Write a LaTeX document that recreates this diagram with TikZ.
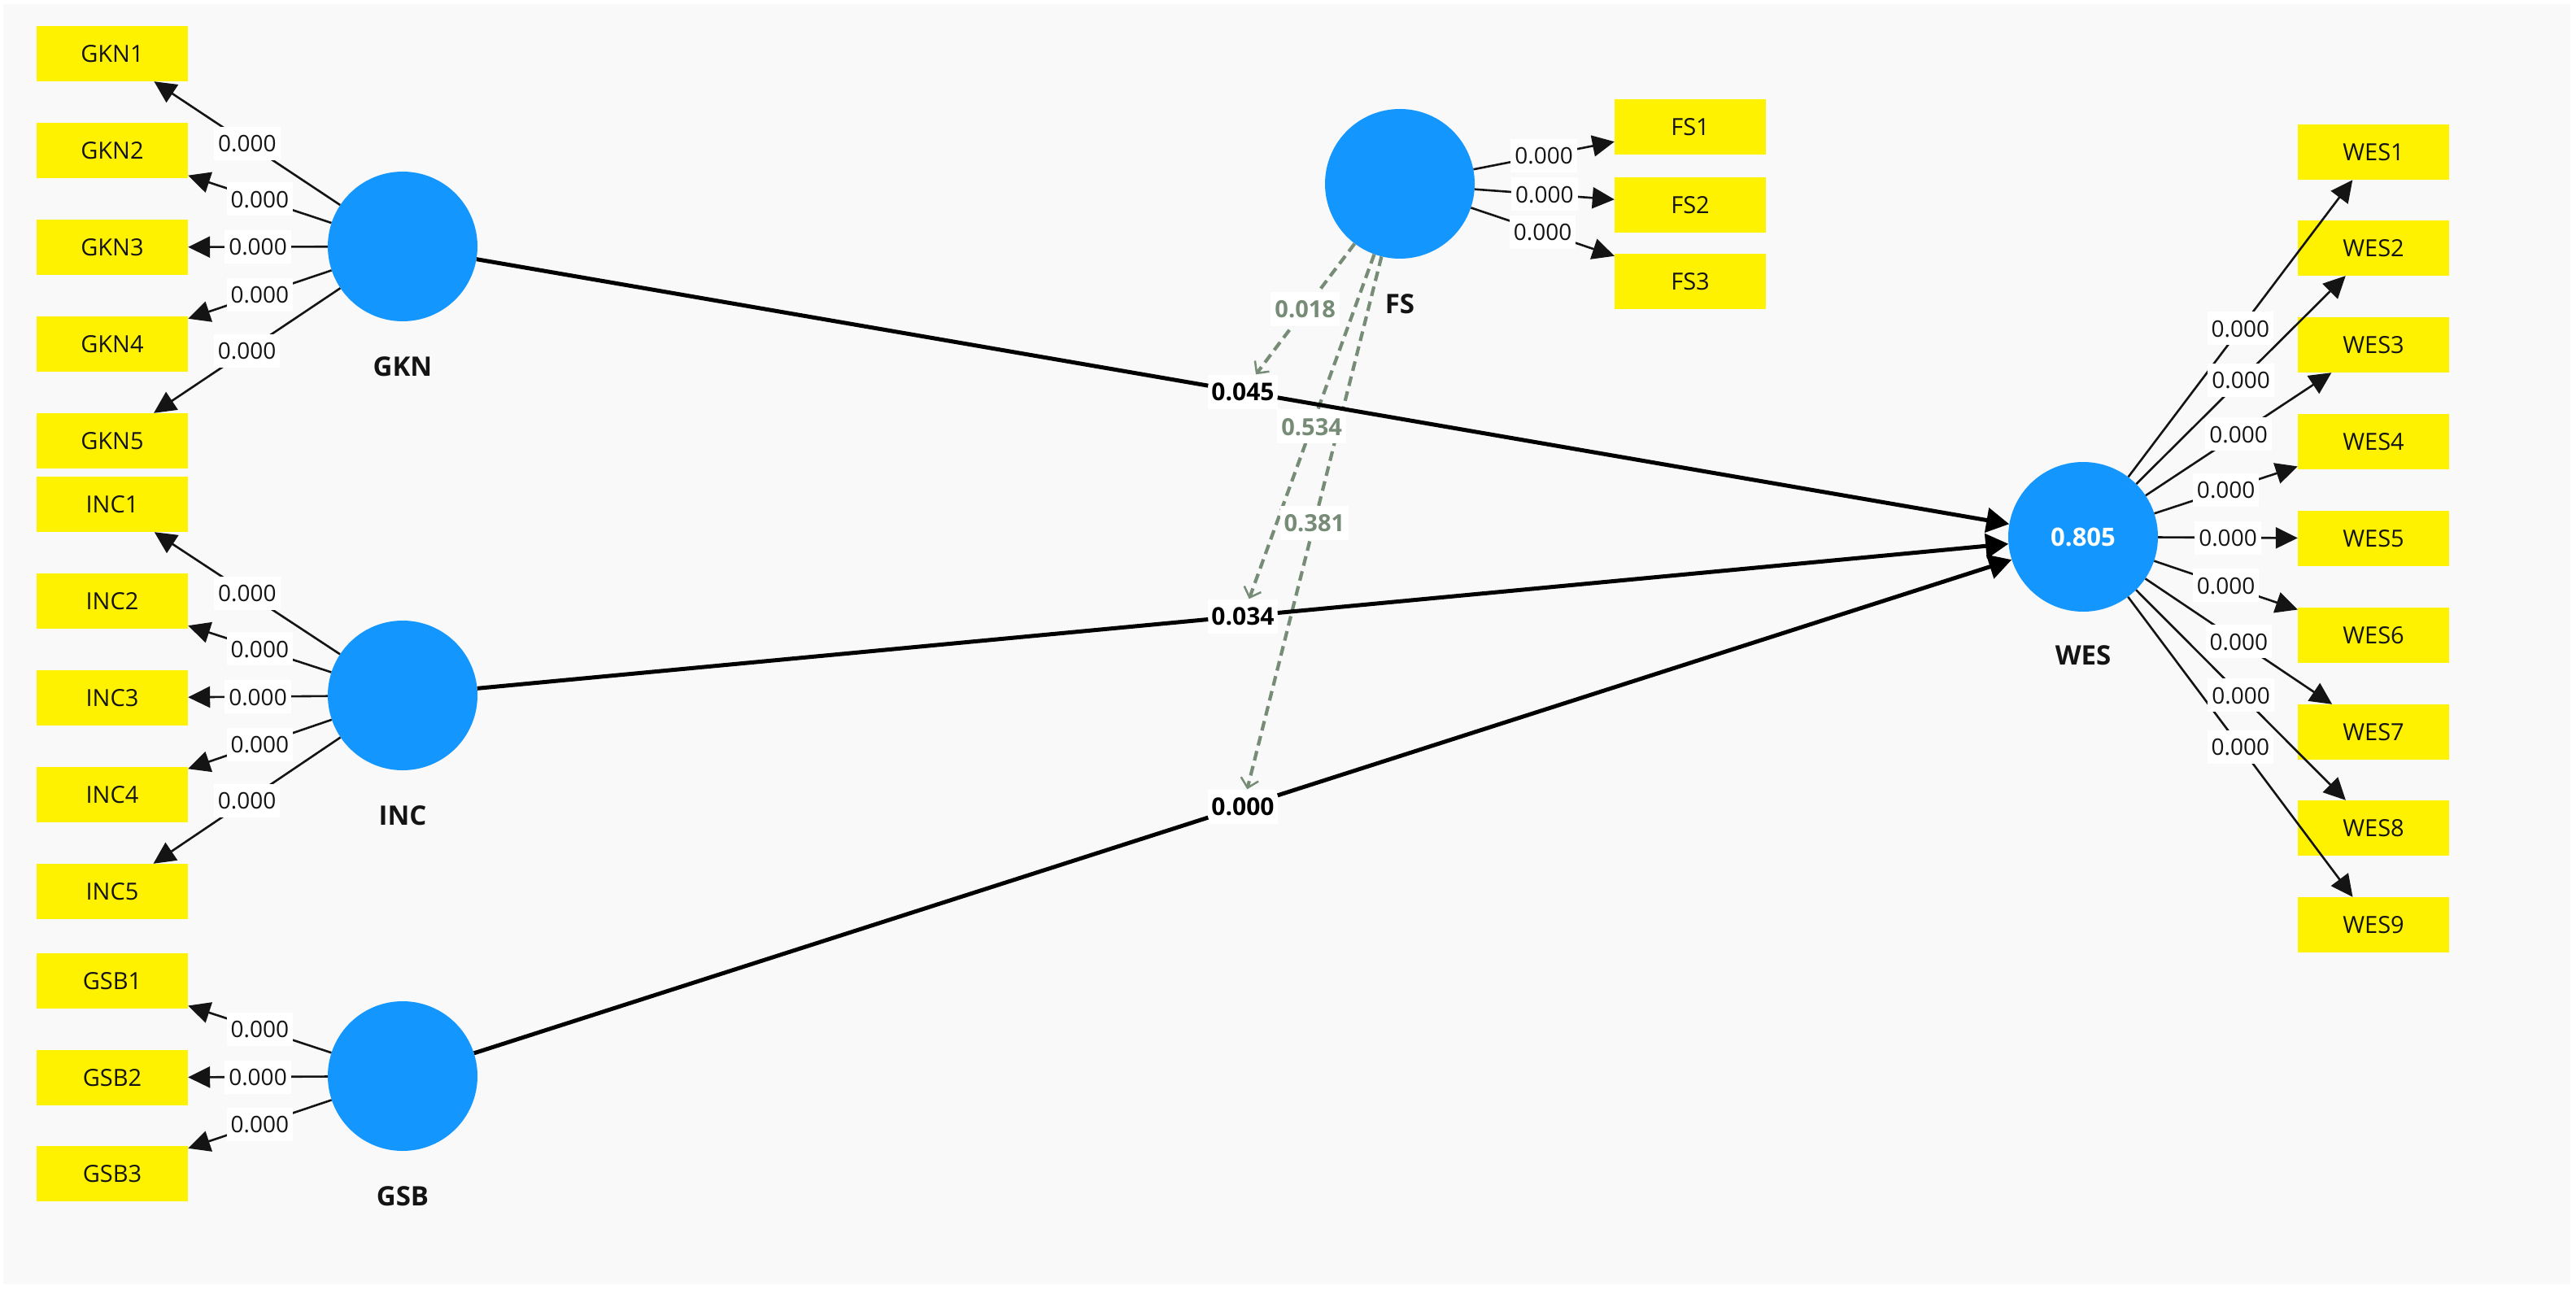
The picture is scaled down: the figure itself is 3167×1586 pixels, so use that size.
\documentclass[tikz,border=0pt]{standalone}
\usepackage{fontspec}
\setmainfont{Open Sans}
\usetikzlibrary{arrows.meta,calc}
\definecolor{plsblue}{RGB}{20,150,255}
\definecolor{bggray}{RGB}{249,249,249}
\definecolor{modgray}{RGB}{118,140,118}
\definecolor{txtdark}{RGB}{20,20,20}
\begin{document}
\begin{tikzpicture}[x=1pt,y=-1pt,
 lat/.style={circle, fill=plsblue, minimum size=184pt, inner sep=0pt},
 ind/.style={rectangle, fill=yellow, minimum width=186pt, minimum height=68pt, inner sep=0pt, text=txtdark, font=\fontsize{29}{34}\selectfont},
 latname/.style={text=txtdark, font=\fontsize{33}{38}\selectfont\bfseries},
 load/.style={line width=2.6pt, txtdark, -{Triangle[length=27pt,width=26pt]}},
 lbl/.style={fill=white, text=txtdark, inner xsep=5pt, inner ysep=10pt, text height=21pt, text depth=0pt, font=\fontsize{28}{33}\selectfont},
 pth/.style={line width=5pt, black, -{Triangle[length=28pt,width=30pt]}},
 plbl/.style={fill=white, text=black, inner xsep=4pt, inner ysep=10pt, text height=22pt, text depth=0pt, font=\fontsize{30}{36}\selectfont\bfseries},
 mod/.style={modgray, line width=4.2pt, dash pattern=on 12pt off 7pt, -{Straight Barb[length=11pt,width=22pt,line width=2.5pt]}},
 glbl/.style={fill=white, text=modgray, inner xsep=5pt, inner ysep=10pt, text height=22pt, text depth=0pt, font=\fontsize{29}{34}\selectfont\bfseries}
]
\useasboundingbox (0,0) rectangle (3167,1586);
\fill[white] (0,0) rectangle (3167,1586);
\fill[bggray] (4,5) rectangle (3160,1579);

% latent variables
\node[lat] (GKN) at (495,303) {};
\node[latname] (GKNn) at (495,451) {GKN};
\node[lat] (INC) at (495,855) {};
\node[latname] (INCn) at (495,1003) {INC};
\node[lat] (GSB) at (495,1323) {};
\node[latname] (GSBn) at (495,1471) {GSB};
\node[lat] (FS) at (1721,226) {};
\node[latname] (FSn) at (1721,374) {FS};
\node[lat, text=white, font=\fontsize{31}{36}\selectfont\bfseries] (WES) at (2561,660) {0.805};
\node[latname] (WESn) at (2561,806) {WES};

% indicators
\foreach \i/\y in {1/66,2/185,3/304,4/423,5/542}
  \node[ind] (GKN\i) at (138,\y) {GKN\i};
\foreach \i/\y in {1/620,2/739,3/858,4/977,5/1096}
  \node[ind] (INC\i) at (138,\y) {INC\i};
\foreach \i/\y in {1/1206,2/1325,3/1443}
  \node[ind] (GSB\i) at (138,\y) {GSB\i};
\foreach \i/\y in {1/156,2/252,3/346}
  \node[ind] (FS\i) at (2078,\y) {FS\i};
\foreach \i/\y in {1/187,2/305,3/424,4/543,5/662,6/781,7/900,8/1018,9/1137}
  \node[ind] (WES\i) at (2918,\y) {WES\i};

% loading lines
\foreach \i in {1,...,5} \draw[load] (GKN) -- (GKN\i);
\foreach \i in {1,...,5} \draw[load] (INC) -- (INC\i);
\foreach \i in {1,...,3} \draw[load] (GSB) -- (GSB\i);
\foreach \i in {1,...,3} \draw[load] (FS) -- (FS\i);
\foreach \i in {1,...,9} \draw[load] (WES) -- (WES\i);

% loading labels
\foreach \i in {1,...,5} \path (GKN) -- node[lbl]{0.000} (GKN\i);
\foreach \i in {1,...,5} \path (INC) -- node[lbl]{0.000} (INC\i);
\foreach \i in {1,...,3} \path (GSB) -- node[lbl]{0.000} (GSB\i);
\foreach \i in {1,...,3} \path (FS) -- node[lbl]{0.000} (FS\i);
\foreach \i in {1,...,9} \path (WES) -- node[lbl]{0.000} (WES\i);

% path coefficient labels
\node[plbl] (p1) at ($(GKN)!0.5!(WES)$) {0.045};
\node[plbl] (p2) at ($(INC)!0.5!(WES)$) {0.034};
\node[plbl] (p3) at ($(GSB)!0.5!(WES)$) {0.000};

% moderating (dashed) effects
\draw[mod] (FS) -- (p1);
\draw[mod] (FS) -- (p2);
\draw[mod] (FS) -- (p3);
\path (FS) -- node[glbl]{0.018} (p1);
\path (FS) -- node[glbl]{0.534} (p2);
\path (FS) -- node[glbl]{0.381} (p3);

% structural paths
\draw[pth] (GKN) -- (p1) -- (WES);
\draw[pth] (INC) -- (p2) -- (WES);
\draw[pth] (GSB) -- (p3) -- (WES);
\end{tikzpicture}
\end{document}
